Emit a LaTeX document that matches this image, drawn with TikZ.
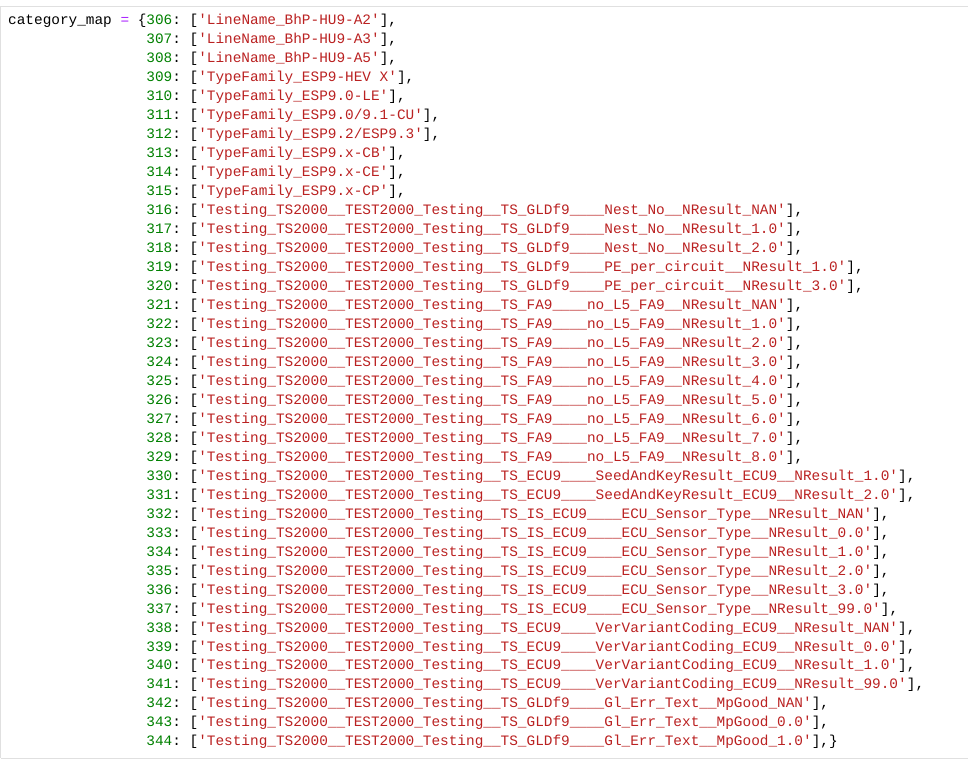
\documentclass[tikz,border=0pt]{standalone}
\usepackage{fontspec}
\setmonofont{Liberation Mono}
\definecolor{kn}{HTML}{008000}
\definecolor{ks}{HTML}{BA2121}
\definecolor{ko}{HTML}{AA22FF}
\definecolor{fr}{HTML}{E0E0E0}
\newcommand\Nm[1]{\textcolor{kn}{#1}}
\newcommand\Sx[1]{\textcolor{ks}{'\detokenize{#1}'}}
\newcommand\Ln[2]{\Nm{#1}: [\Sx{#2}],}
\newcommand\Row[3]{\node[ln] (l#2) at (8+16*8.64,-25-#1*18.97) {\Ln{#2}{#3}};}
\tikzset{ln/.style={anchor=base west,inner sep=0pt,font=\fontsize{14.4pt}{19pt}\ttfamily}}
\begin{document}
\begin{tikzpicture}[x=1pt,y=1pt]
\useasboundingbox (0,0) rectangle (968,-765);
\draw[fr] (0.5,-6) -- (968,-6);
\draw[fr] (0.5,-6) -- (0.5,-758);
\draw[fr] (0.5,-758) -- (968,-758);
\node[ln] (l306) at (8,-25) {category\_map \textcolor{ko}{=} \{\Ln{306}{LineName_BhP-HU9-A2}};
\Row{1}{307}{LineName_BhP-HU9-A3}
\Row{2}{308}{LineName_BhP-HU9-A5}
\Row{3}{309}{TypeFamily_ESP9-HEV X}
\Row{4}{310}{TypeFamily_ESP9.0-LE}
\Row{5}{311}{TypeFamily_ESP9.0/9.1-CU}
\Row{6}{312}{TypeFamily_ESP9.2/ESP9.3}
\Row{7}{313}{TypeFamily_ESP9.x-CB}
\Row{8}{314}{TypeFamily_ESP9.x-CE}
\Row{9}{315}{TypeFamily_ESP9.x-CP}
\Row{10}{316}{Testing_TS2000__TEST2000_Testing__TS_GLDf9____Nest_No__NResult_NAN}
\Row{11}{317}{Testing_TS2000__TEST2000_Testing__TS_GLDf9____Nest_No__NResult_1.0}
\Row{12}{318}{Testing_TS2000__TEST2000_Testing__TS_GLDf9____Nest_No__NResult_2.0}
\Row{13}{319}{Testing_TS2000__TEST2000_Testing__TS_GLDf9____PE_per_circuit__NResult_1.0}
\Row{14}{320}{Testing_TS2000__TEST2000_Testing__TS_GLDf9____PE_per_circuit__NResult_3.0}
\Row{15}{321}{Testing_TS2000__TEST2000_Testing__TS_FA9____no_L5_FA9__NResult_NAN}
\Row{16}{322}{Testing_TS2000__TEST2000_Testing__TS_FA9____no_L5_FA9__NResult_1.0}
\Row{17}{323}{Testing_TS2000__TEST2000_Testing__TS_FA9____no_L5_FA9__NResult_2.0}
\Row{18}{324}{Testing_TS2000__TEST2000_Testing__TS_FA9____no_L5_FA9__NResult_3.0}
\Row{19}{325}{Testing_TS2000__TEST2000_Testing__TS_FA9____no_L5_FA9__NResult_4.0}
\Row{20}{326}{Testing_TS2000__TEST2000_Testing__TS_FA9____no_L5_FA9__NResult_5.0}
\Row{21}{327}{Testing_TS2000__TEST2000_Testing__TS_FA9____no_L5_FA9__NResult_6.0}
\Row{22}{328}{Testing_TS2000__TEST2000_Testing__TS_FA9____no_L5_FA9__NResult_7.0}
\Row{23}{329}{Testing_TS2000__TEST2000_Testing__TS_FA9____no_L5_FA9__NResult_8.0}
\Row{24}{330}{Testing_TS2000__TEST2000_Testing__TS_ECU9____SeedAndKeyResult_ECU9__NResult_1.0}
\Row{25}{331}{Testing_TS2000__TEST2000_Testing__TS_ECU9____SeedAndKeyResult_ECU9__NResult_2.0}
\Row{26}{332}{Testing_TS2000__TEST2000_Testing__TS_IS_ECU9____ECU_Sensor_Type__NResult_NAN}
\Row{27}{333}{Testing_TS2000__TEST2000_Testing__TS_IS_ECU9____ECU_Sensor_Type__NResult_0.0}
\Row{28}{334}{Testing_TS2000__TEST2000_Testing__TS_IS_ECU9____ECU_Sensor_Type__NResult_1.0}
\Row{29}{335}{Testing_TS2000__TEST2000_Testing__TS_IS_ECU9____ECU_Sensor_Type__NResult_2.0}
\Row{30}{336}{Testing_TS2000__TEST2000_Testing__TS_IS_ECU9____ECU_Sensor_Type__NResult_3.0}
\Row{31}{337}{Testing_TS2000__TEST2000_Testing__TS_IS_ECU9____ECU_Sensor_Type__NResult_99.0}
\Row{32}{338}{Testing_TS2000__TEST2000_Testing__TS_ECU9____VerVariantCoding_ECU9__NResult_NAN}
\Row{33}{339}{Testing_TS2000__TEST2000_Testing__TS_ECU9____VerVariantCoding_ECU9__NResult_0.0}
\Row{34}{340}{Testing_TS2000__TEST2000_Testing__TS_ECU9____VerVariantCoding_ECU9__NResult_1.0}
\Row{35}{341}{Testing_TS2000__TEST2000_Testing__TS_ECU9____VerVariantCoding_ECU9__NResult_99.0}
\Row{36}{342}{Testing_TS2000__TEST2000_Testing__TS_GLDf9____Gl_Err_Text__MpGood_NAN}
\Row{37}{343}{Testing_TS2000__TEST2000_Testing__TS_GLDf9____Gl_Err_Text__MpGood_0.0}
\node[ln] (l344) at (8+16*8.64,-25-38*18.97) {\Nm{344}: [\Sx{Testing_TS2000__TEST2000_Testing__TS_GLDf9____Gl_Err_Text__MpGood_1.0}],\}};
\end{tikzpicture}
\end{document}
